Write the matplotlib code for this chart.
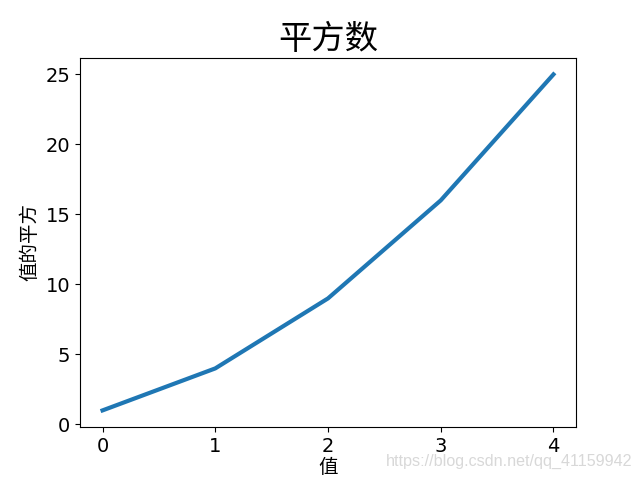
import matplotlib
matplotlib.use("Agg")
import matplotlib.pyplot as plt

plt.rcParams['font.family'] = ['Noto Sans CJK SC', 'DejaVu Sans']

# Data
input_values = [0, 1, 2, 3, 4]
squares = [1, 4, 9, 16, 25]

fig, ax = plt.subplots(figsize=(6.4, 4.8), dpi=100)
ax.plot(input_values, squares, linewidth=3)

ax.set_title("平方数", fontsize=24)
ax.set_xlabel("值", fontsize=14, labelpad=1)
ax.set_ylabel("值的平方", fontsize=14)
ax.tick_params(axis='both', labelsize=14)
for lab in ax.get_xticklabels() + ax.get_yticklabels():
    lab.set_family('DejaVu Sans')

# blog watermark
fig.text(0.988, 0.038, "https://blog.csdn.net/qq_41159942", ha='right', va='center',
         fontsize=11.6, color='#d8d8d8', family='Liberation Sans')

fig.savefig("out.png", dpi=100)
